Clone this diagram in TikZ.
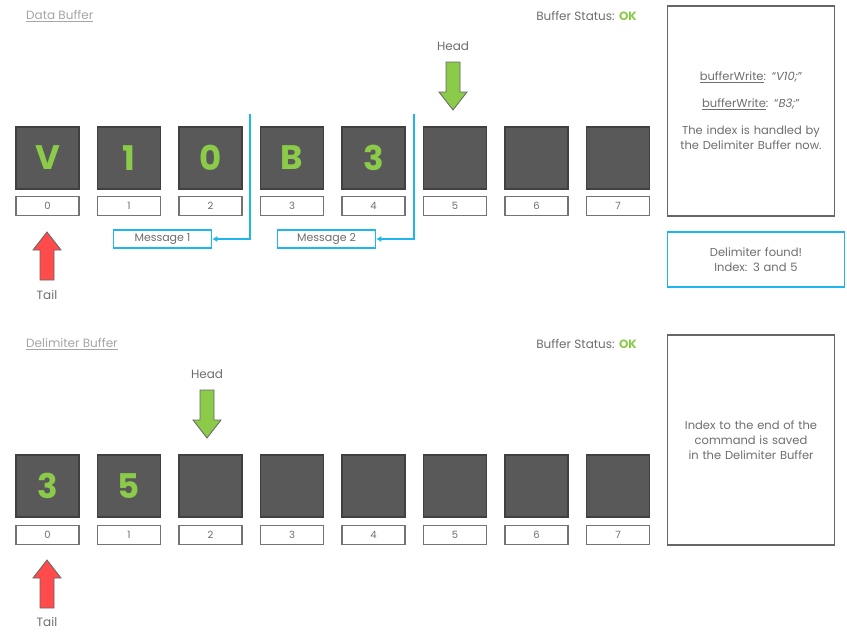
\documentclass[tikz,border=0pt]{standalone}
\usepackage{fontspec}
\setmainfont{Poppins}
\begin{document}
\begin{tikzpicture}[x=1pt,y=-1pt,
 cell/.style={draw=black!75,line width=1.5pt,fill=black!65,minimum width=63pt,minimum height=62pt,inner sep=0pt,text=lgreen,font=\fontsize{34}{34}\selectfont\bfseries},
 idx/.style={draw=black!55,line width=1.2pt,fill=white,minimum width=63pt,minimum height=19pt,inner sep=0pt,text=txt,font=\fontsize{10}{10}\selectfont},
 msg/.style={draw=cyan!80!blue!90,line width=1.5pt,minimum width=98pt,minimum height=18pt,inner sep=0pt,text=txt,font=\fontsize{11}{11}\selectfont},
 lbl/.style={text=txt,font=\fontsize{12}{12}\selectfont,inner sep=0pt},
 panel/.style={draw=black!60,line width=1.5pt,text=txt,font=\fontsize{11.5}{15}\selectfont,align=center,text width=160pt},
 wire/.style={draw=cyan!80!blue!90,line width=1.3pt,-{Latex[length=5pt,width=6pt]}},
]
\usetikzlibrary{arrows.meta}
\definecolor{lgreen}{HTML}{8CCB4A}
\definecolor{txt}{HTML}{6E6E6E}
\definecolor{cyanb}{HTML}{1FB6F0}
\definecolor{redA}{HTML}{FF4B4B}
\useasboundingbox (0,0) rectangle (847,643);
\fill[white] (0,0) rectangle (847,643);
\tikzset{msg/.append style={draw=cyanb},wire/.append style={draw=cyanb}}
\newcommand{\dnarrow}[3]{\fill[#3,draw=black!60,line width=0.8pt] (#1-7,#2) -- (#1+7,#2) -- (#1+7,#2+30) -- (#1+14,#2+30) -- (#1,#2+48) -- (#1-14,#2+30) -- (#1-7,#2+30) -- cycle;}
\newcommand{\uparrowx}[3]{\fill[#3,draw=black!60,line width=0.8pt] (#1-7,#2+48) -- (#1+7,#2+48) -- (#1+7,#2+18) -- (#1+14,#2+18) -- (#1,#2) -- (#1-14,#2+18) -- (#1-7,#2+18) -- cycle;}
% titles
\node[lbl,anchor=west,text=black!35,font=\fontsize{12}{12}\selectfont] (t1) at (26,16) {\underline{Data Buffer}};
\node[lbl,anchor=east] (s1) at (637,16) {Buffer Status: \textcolor{lgreen}{\textbf{OK}}};
\node[lbl,anchor=west,text=black!35,font=\fontsize{12}{12}\selectfont] (t2) at (26,344) {\underline{Delimiter Buffer}};
\node[lbl,anchor=east] (s2) at (637,344) {Buffer Status: \textcolor{lgreen}{\textbf{OK}}};
% top row
\foreach \i/\c in {0/V,1/1,2/0,3/B,4/3,5/,6/,7/} {
  \node[cell] (a\i) at (47.5+81.5*\i,158) {\c};
  \node[idx] (ai\i) at (47.5+81.5*\i,206) {\i};
}
\foreach \i/\c in {0/3,1/5,2/,3/,4/,5/,6/,7/} {
  \node[cell] (b\i) at (47.5+81.5*\i,486) {\c};
  \node[idx] (bi\i) at (47.5+81.5*\i,535) {\i};
}
% messages
\node[msg] (m1) at (162.5,239) {Message 1};
\node[msg] (m2) at (326.5,239) {Message 2};
\coordinate (w1) at (250,114);
\coordinate (w2) at (414,114);
\draw[wire] (w1) |- (m1.east);
\draw[wire] (w2) |- (m2.east);
% arrows
\node[lbl] (h1) at (453,46) {Head};
\dnarrow{453}{62}{lgreen}
\uparrowx{47}{232}{redA}
\node[lbl] (tl1) at (47,295) {Tail};
\node[lbl] (h2) at (207,374) {Head};
\dnarrow{207}{390}{lgreen}
\uparrowx{47}{560}{redA}
\node[lbl] (tl2) at (47,622) {Tail};
% panels
\node[panel,minimum height=210pt] (p1) at (751,111) {\underline{bufferWrite}: ``\textit{V10;}''\\[12pt]\underline{bufferWrite}: ``\textit{B3;}''\\[12pt]The index is handled by the Delimiter Buffer now.};
\node[panel,draw=cyanb,minimum height=55pt,text width=170pt] (p2) at (756,259.5) {Delimiter found!\\Index: 3 and 5};
\node[panel,minimum height=210pt] (p3) at (751,440) {Index to the end of the command is saved in the Delimiter Buffer};
\end{tikzpicture}
\end{document}
